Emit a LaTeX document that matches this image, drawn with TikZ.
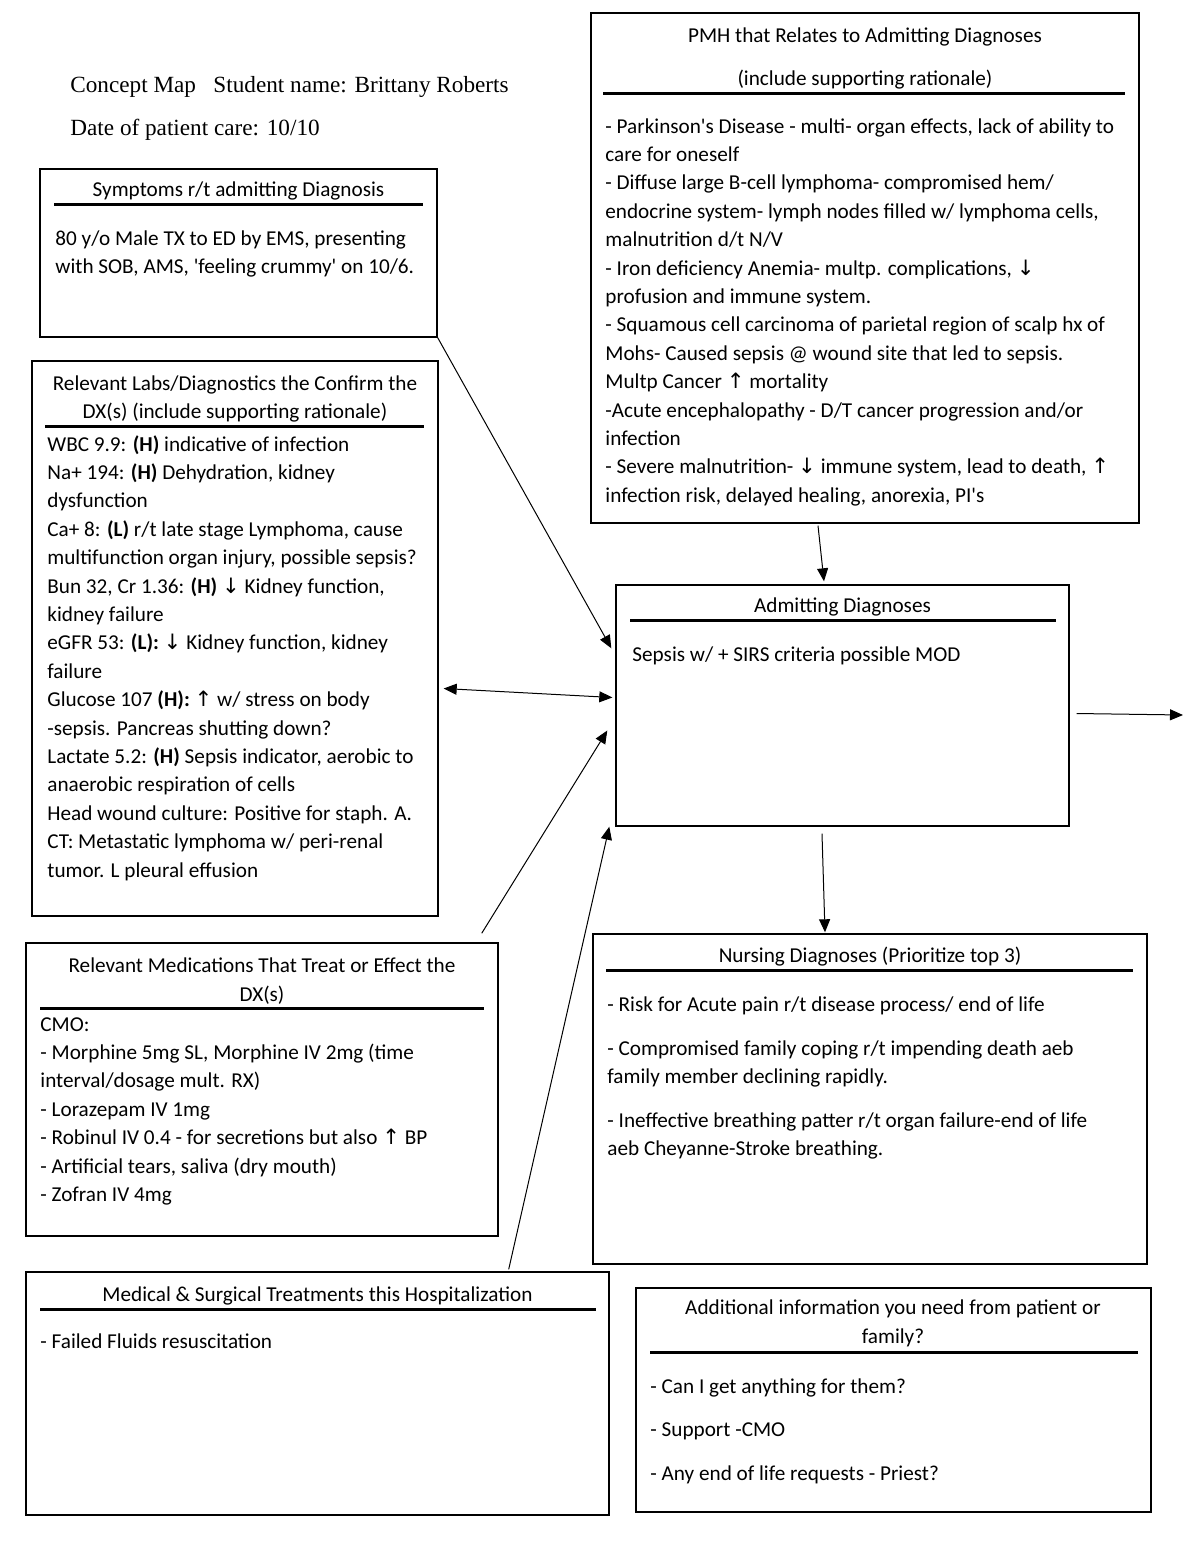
\documentclass[tikz,border=0pt]{standalone}
\usepackage{fontspec}
\setmainfont{Carlito}
\newfontfamily\titlefont{Liberation Serif}
\newfontfamily\symfont{DejaVu Sans}
\usetikzlibrary{positioning,calc,fit,arrows.meta}

\newcommand{\upar}{{\symfont\char"2191}}
\newcommand{\dnar}{{\symfont\char"2193}}

\begin{document}
\begin{tikzpicture}[
    x=0.5pt, y=-0.5pt,
    box/.style={draw, line width=0.7pt, inner sep=0pt},
    head/.style={font=\fontsize{10.6}{14.2}\selectfont, align=center, inner sep=0pt},
    body/.style={font=\fontsize{10.6}{14.2}\selectfont, align=left, anchor=north west, inner sep=0pt},
    rule/.style={line width=1.5pt},
    link/.style={-{Triangle[length=6.5pt,width=5.5pt]}, line width=0.5pt}
]
\useasboundingbox (0,0) rectangle (1200,1553);

% Title lines
\node[anchor=west, inner sep=0pt, font=\titlefont\fontsize{11.6}{13}\selectfont] (title) at (70,87) {Concept Map\ \ \ Student name: Brittany Roberts};
\node[anchor=west, inner sep=0pt, font=\titlefont\fontsize{11.6}{13}\selectfont] (date) at (70,130) {Date of patient care: 10/10};

% Boxes
\node[box, fit={(40,169) (437,337)}] (sym) {};
\node[box, fit={(591,13) (1139,523)}] (pmh) {};
\node[box, fit={(32,361) (438,916)}] (labs) {};
\node[box, fit={(616,585) (1069,826)}] (adm) {};
\node[box, fit={(26,943) (498,1236)}] (meds) {};
\node[box, fit={(593,934) (1147,1264)}] (nurs) {};
\node[box, fit={(26,1272) (609,1515)}] (msurg) {};
\node[box, fit={(636,1288) (1151,1512)}] (addl) {};

% Symptoms
\node[head] (symh) at (238.5,191) {Symptoms r/t admitting Diagnosis};
\draw[rule] (54,204) -- (423,204);
\node[body] (symb) at (55,230) {80 y/o Male TX to ED by EMS, presenting\\with SOB, AMS, \textquotesingle feeling crummy\textquotesingle\ on 10/6.};

% PMH
\node[head] (pmhh) at (865,58.5) {PMH that Relates to Admitting Diagnoses\\[7.3pt](include supporting rationale)};
\draw[rule] (603,93) -- (1125,93);
\node[body] (pmhb) at (605,118) {- Parkinson\textquotesingle s Disease - multi- organ effects, lack of ability to\\
care for oneself\\
- Diffuse large B-cell lymphoma- compromised hem/\\
endocrine system- lymph nodes filled w/ lymphoma cells,\\
malnutrition d/t N/V\\
- Iron deficiency Anemia- multp. complications, \dnar\\
profusion and immune system.\\
- Squamous cell carcinoma of parietal region of scalp hx of\\
Mohs- Caused sepsis @ wound site that led to sepsis.\\
Multp Cancer \upar\ mortality\\
-Acute encephalopathy - D/T cancer progression and/or\\
infection\\
- Severe malnutrition- \dnar\ immune system, lead to death, \upar\\
infection risk, delayed healing, anorexia, PI\textquotesingle s};

% Labs
\node[head] (labsh) at (235,399) {Relevant Labs/Diagnostics the Confirm the\\DX(s) (include supporting rationale)};
\draw[rule] (45,426) -- (424,426);
\node[body] (labsb) at (47,435) {WBC 9.9: \textbf{(H)} indicative of infection\\
Na+ 194: \textbf{(H)} Dehydration, kidney\\
dysfunction\\
Ca+ 8: \textbf{(L)} r/t late stage Lymphoma, cause\\
multifunction organ injury, possible sepsis?\\
Bun 32, Cr 1.36: \textbf{(H)} \dnar\ Kidney function,\\
kidney failure\\
eGFR 53: \textbf{(L):} \dnar\ Kidney function, kidney\\
failure\\
Glucose 107 \textbf{(H):} \upar\ w/ stress on body\\
-sepsis. Pancreas shutting down?\\
Lactate 5.2: \textbf{(H)} Sepsis indicator, aerobic to\\
anaerobic respiration of cells\\
Head wound culture: Positive for staph. A.\\
CT: Metastatic lymphoma w/ peri-renal\\
tumor. L pleural effusion};

% Admitting diagnoses
\node[head] (admh) at (842.5,607) {Admitting Diagnoses};
\draw[rule] (630,620) -- (1056,620);
\node[body] (admb) at (632,646) {Sepsis w/ + SIRS criteria possible MOD};

% Medications
\node[head] (medsh) at (262,981) {Relevant Medications That Treat or Effect the\\DX(s)};
\draw[rule] (40,1008) -- (484,1008);
\node[body] (medsb) at (40,1017) {CMO:\\
- Morphine 5mg SL, Morphine IV 2mg (time\\
interval/dosage mult. RX)\\
- Lorazepam IV 1mg\\
- Robinul IV 0.4 - for secretions but also \upar\ BP\\
- Artificial tears, saliva (dry mouth)\\
- Zofran IV 4mg};

% Nursing diagnoses
\node[head] (nursh) at (870,957) {Nursing Diagnoses (Prioritize top 3)};
\draw[rule] (606,970) -- (1133,970);
\node[body] (nursb) at (607,996) {- Risk for Acute pain r/t disease process/ end of life\\[7.8pt]
- Compromised family coping r/t impending death aeb\\
family member declining rapidly.\\[7.8pt]
- Ineffective breathing patter r/t organ failure-end of life\\
aeb Cheyanne-Stroke breathing.};

% Medical and surgical treatments
\node[head] (msurgh) at (317.5,1296) {Medical \& Surgical Treatments this Hospitalization};
\draw[rule] (40,1309) -- (596,1309);
\node[body] (msurgb) at (40,1333) {- Failed Fluids resuscitation};

% Additional information
\node[head] (addlh) at (893,1323.5) {Additional information you need from patient or\\family?};
\draw[rule] (650,1352) -- (1138,1352);
\node[body] (addlb) at (650,1378) {- Can I get anything for them?\\[7.6pt]
- Support -CMO\\[7.6pt]
- Any end of life requests - Priest?};

% Connectors
\coordinate (out) at (1183,715);
\draw[link] (sym.south east) -- ($(adm.north west)+(-4,64)$);
\draw[link, {Triangle[length=6.5pt,width=5.5pt]}-{Triangle[length=6.5pt,width=5.5pt]}] ($(labs.east)+(5,50)$) -- ($(adm.west)+(-3,-8)$);
\draw[link] ($(meds.north east)+(-17,-9)$) -- ($(adm.west)+(-8,25)$);
\draw[link] ($(msurg.north east)+(-101,-2)$) -- ($(adm.south west)+(-6,0)$);
\draw[link] ($(pmh.south)+(-47,2)$) -- ($(adm.north)+(-18.5,-3)$);
\draw[link] ($(adm.south)+(-20.5,7)$) -- ($(nurs.north)+(-45,-1)$);
\draw[link] ($(adm.east)+(7,8)$) -- (out);

\end{tikzpicture}
\end{document}
